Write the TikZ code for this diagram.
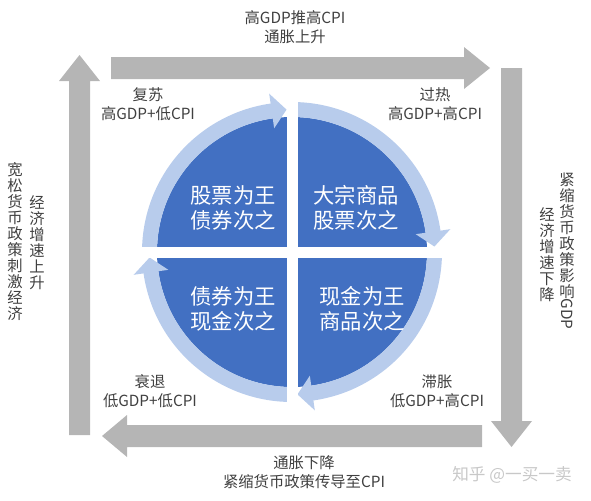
\documentclass[tikz,border=0pt]{standalone}
\usepackage{fontspec}
\setmainfont{Noto Sans CJK SC}

\definecolor{ringblue}{RGB}{184,204,236}
\definecolor{quadblue}{RGB}{66,112,194}
\definecolor{arrowgray}{RGB}{181,181,181}
\definecolor{textgray}{RGB}{64,64,64}
\definecolor{markgray}{RGB}{200,200,200}

\tikzset{every picture/.style={line width=0.75pt}}
\tikzset{
  lbl/.style={text=textgray,inner sep=0.75pt,align=center,font=\fontsize{11.5}{14}\selectfont},
  quadtxt/.style={text=white,inner sep=0.75pt,align=center,font=\fontsize{16}{18.75}\selectfont},
  vlbl/.style={text=textgray,inner sep=0pt,align=center,anchor=north,font=\fontsize{11.5}{12}\selectfont},
}

\begin{document}
\begin{tikzpicture}[x=0.75pt,y=0.75pt,yscale=-1,xscale=1]
\useasboundingbox (0,0) rectangle (591,500);

%Shape: Right Arrow [top]
\fill[arrowgray] (111,57) -- (464,57) -- (464,47) -- (490,68) -- (464,89) -- (464,79) -- (111,79) -- cycle ;
%Shape: Down Arrow [right]
\fill[arrowgray] (501,68) -- (522,68) -- (522,421) -- (532,421) -- (511.5,447) -- (491,421) -- (501,421) -- cycle ;
%Shape: Left Arrow [bottom]
\fill[arrowgray] (482,425) -- (482,447) -- (127,447) -- (127,457) -- (102,436) -- (127,415) -- (127,425) -- cycle ;
%Shape: Up Arrow [left]
\fill[arrowgray] (69,435) -- (90,435) -- (90,81) -- (100,81) -- (79.5,55) -- (59,81) -- (69,81) -- cycle ;

\begin{scope}[shift={(292,252)},yscale=-1]
%Shape: Circle
\fill[quadblue] (0,0) circle [radius=135] ;
%Shape: Arc Arrow [top left]
\fill[ringblue] (180:150) arc [start angle=180, end angle=98.2, radius=150] -- (98.2:160) -- (92.2:142.5) -- (98.2:125) -- (98.2:135) arc [start angle=98.2, end angle=180, radius=135] -- cycle ;
%Shape: Arc Arrow [top right]
\fill[ringblue] (90:150) arc [start angle=90, end angle=8.2, radius=150] -- (8.2:160) -- (2.2:142.5) -- (8.2:125) -- (8.2:135) arc [start angle=8.2, end angle=90, radius=135] -- cycle ;
%Shape: Arc Arrow [bottom right]
\fill[ringblue] (0:150) arc [start angle=0, end angle=-81.8, radius=150] -- (-81.8:160) -- (-87.8:142.5) -- (-81.8:125) -- (-81.8:135) arc [start angle=-81.8, end angle=0, radius=135] -- cycle ;
%Shape: Arc Arrow [bottom left]
\fill[ringblue] (-90:150) arc [start angle=-90, end angle=-171.8, radius=150] -- (-171.8:160) -- (-177.8:142.5) -- (-171.8:125) -- (-171.8:135) arc [start angle=-171.8, end angle=-90, radius=135] -- cycle ;
%Shape: Gaps
\fill[white] (-5.5,-163) rectangle (5.5,163) ;
\fill[white] (-163,-5.5) rectangle (163,5.5) ;
\end{scope}

% Text Node
\node (risetxt) at (295,27.5) [lbl] {高GDP推高CPI\\通胀上升};
% Text Node
\node (falltxt) at (304,472.5) [lbl] {通胀下降\\紧缩货币政策传导至CPI};
% Text Node
\node (recovery) at (148,104) [lbl] {复苏\\高GDP+低CPI};
% Text Node
\node (overheat) at (435,104) [lbl] {过热\\高GDP+高CPI};
% Text Node
\node (recession) at (150,391) [lbl] {衰退\\低GDP+低CPI};
% Text Node
\node (stagflation) at (437,391) [lbl] {滞胀\\低GDP+高CPI};

% Text Node
\node (stockking) at (233,207.5) [quadtxt] {股票为王\\债券次之};
% Text Node
\node (commking) at (356,207.5) [quadtxt] {大宗商品\\股票次之};
% Text Node
\node (bondking) at (233,308.5) [quadtxt] {债券为王\\现金次之};
% Text Node
\node (cashking) at (362,308.5) [quadtxt] {现金为王\\商品次之};

% Text Node
\node (easypolicy) at (15,162) [vlbl] {宽\\松\\货\\币\\政\\策\\刺\\激\\经\\济};
% Text Node
\node (growthup) at (37,195) [vlbl] {经\\济\\增\\速\\上\\升};
% Text Node
\node (tightpolicy) at (567,172) [vlbl] {紧\\缩\\货\\币\\政\\策\\影\\响};
% Text Node
\node (tightgdp) at (567,298) [vlbl,rotate=-90,anchor=west] {GDP};
% Text Node
\node (growthdown) at (547,207) [vlbl] {经\\济\\增\\速\\下\\降};

% Text Node
\node (watermark) at (512,475) [text=markgray,inner sep=0.75pt,font=\fontsize{12.5}{14}\selectfont] {知乎 @一买一卖};

\end{tikzpicture}
\end{document}
